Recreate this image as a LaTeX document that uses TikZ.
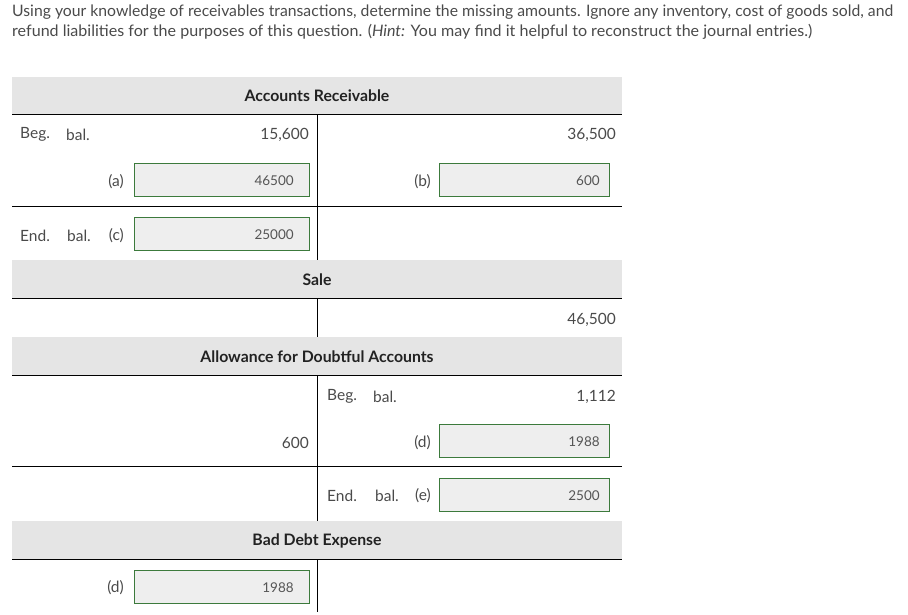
\documentclass[tikz,border=0pt]{standalone}
\usepackage{fontspec}
\setmainfont{Lato}
\usepackage{graphicx}
\definecolor{band}{HTML}{E5E5E5}
\definecolor{boxfill}{HTML}{EEEEEE}
\definecolor{boxline}{HTML}{3C7A3C}
\definecolor{txt}{HTML}{4A4A4A}
\definecolor{head}{HTML}{222222}
\definecolor{val}{HTML}{555555}
\tikzset{
  lbl/.style={inner sep=0pt, text=txt, yshift=-1.5pt, font=\fontsize{15.5}{18}\selectfont},
  num/.style={lbl, anchor=east},
  lw/.style={lbl, anchor=west},
  hdr/.style={inner sep=0pt, text=head, yshift=-1pt, font=\fontsize{15.8}{18}\selectfont\bfseries},
  inbox/.style={draw=boxline, fill=boxfill, line width=0.9pt, minimum width=175pt, minimum height=33pt, inner sep=0pt},
  inval/.style={inner sep=0pt, text=val, yshift=-0.5pt, font=\fontsize{13.5}{15}\selectfont, anchor=east},
  rule/.style={draw=black, line width=1pt},
  vrule/.style={draw=black, line width=0.9pt},
}
\begin{document}
\begin{tikzpicture}[x=1pt,y=-1pt]
\useasboundingbox (0,0) rectangle (908,614);
% intro text
\node[anchor=west, inner sep=0pt, text=txt] (q1) at (12,12.5) {\resizebox{881pt}{\height}{\fontsize{15.8}{18}\selectfont Using your knowledge of receivables transactions, determine the missing amounts. Ignore any inventory, cost of goods sold, and}};
\node[anchor=west, inner sep=0pt, text=txt] (q2) at (12,31.5) {\resizebox{800pt}{\height}{\fontsize{15.8}{18}\selectfont refund liabilities for the purposes of this question. (\textit{Hint:} You may find it helpful to reconstruct the journal entries.)}};

% ---------- Accounts Receivable ----------
\fill[band] (12,77) rectangle (622,114);
\node[hdr] (arh) at (317,95) {Accounts Receivable};
\draw[rule] (12,114) -- (622,114);
\draw[vrule] (317,114) -- (317,260);
\node[lw] (ar1) at (20,133) {Beg.};
\node[lw] (ar1b) at (66,133) {bal.};
\node[num] (ar2) at (309,133) {15,600};
\node[num] (ar3) at (616,133) {36,500};
\node[num] (la) at (124,180) {(a)};
\node[inbox, anchor=north west] (ba) at (134,163) {};
\node[inval] at ([xshift=-16pt]ba.east) {46500};
\node[num] (lb) at (431,180) {(b)};
\node[inbox, minimum width=170pt, anchor=north west] (bb) at (439,163) {};
\node[inval] at ([xshift=-10pt]bb.east) {600};
\draw[rule] (12,206) -- (622,206);
\node[lw] (ar4) at (20,234) {End.};
\node[lw] (ar4b) at (67,234) {bal.};
\node[num] (lc) at (124,234) {(c)};
\node[inbox, anchor=north west] (bc) at (134,217) {};
\node[inval] at ([xshift=-16pt]bc.east) {25000};

% ---------- Sale ----------
\fill[band] (12,260) rectangle (622,298);
\node[hdr] (sh) at (317,279) {Sale};
\draw[rule] (12,298) -- (622,298);
\draw[vrule] (317,298) -- (317,337);
\node[num] (s1) at (616,318) {46,500};

% ---------- Allowance ----------
\fill[band] (12,337) rectangle (622,375);
\node[hdr] (ah) at (317,356) {Allowance for Doubtful Accounts};
\draw[rule] (12,375) -- (622,375);
\draw[vrule] (317,375) -- (317,521);
\node[lw] (a1) at (327,395) {Beg.};
\node[lw] (a1b) at (373,395) {bal.};
\node[num] (a2) at (616,395) {1,112};
\node[num] (a3) at (309,441) {600};
\node[num] (ld) at (431,441) {(d)};
\node[inbox, minimum width=170pt, anchor=north west] (bd) at (439,424) {};
\node[inval] at ([xshift=-10pt]bd.east) {1988};
\draw[rule] (12,466) -- (622,466);
\node[lw] (a4) at (327,494) {End.};
\node[lw] (a4b) at (375,494) {bal.};
\node[num] (le) at (431,494) {(e)};
\node[inbox, minimum width=170pt, anchor=north west] (be) at (439,478) {};
\node[inval] at ([xshift=-10pt]be.east) {2500};

% ---------- Bad Debt Expense ----------
\fill[band] (12,521) rectangle (622,559);
\node[hdr] (bh) at (317,540) {Bad Debt Expense};
\draw[rule] (12,559) -- (622,559);
\draw[vrule] (317,559) -- (317,612);
\node[num] (ld2) at (124,586) {(d)};
\node[inbox, anchor=north west] (bd2) at (134,570) {};
\node[inval] at ([xshift=-16pt]bd2.east) {1988};
\end{tikzpicture}
\end{document}
